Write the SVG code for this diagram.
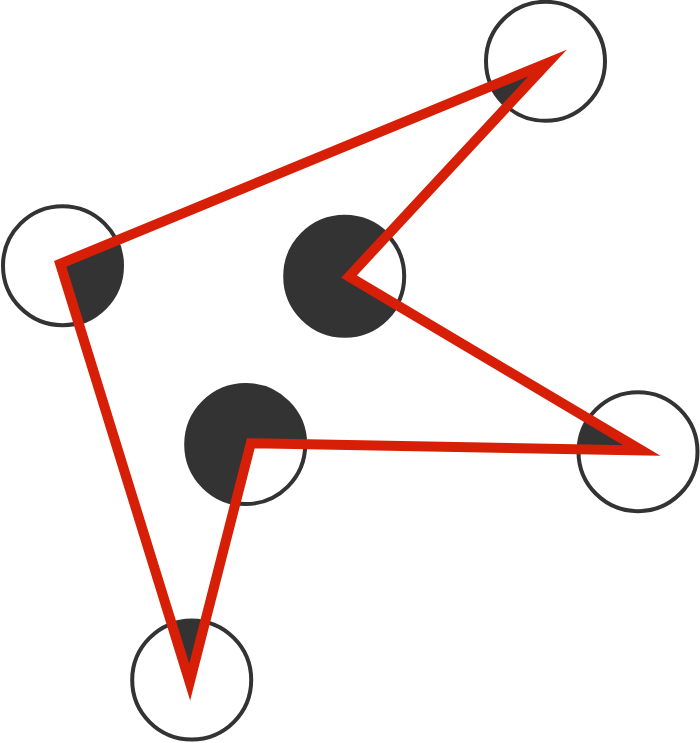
<svg xmlns="http://www.w3.org/2000/svg" width="700" height="743" viewBox="0 0 700 743">
  <style>
    .ring { fill: none; stroke: #333333; stroke-width: 4; }
    .wedge { fill: #333333; }
    .edge { fill: none; stroke: #d61f06; stroke-width: 10; stroke-linejoin: miter; stroke-miterlimit: 10; }
  </style>
  <defs>
    <clipPath id="circles">
      <circle cx="62.5" cy="265.7" r="59.5"/>
      <circle cx="545.5" cy="61.3" r="59.5"/>
      <circle cx="344.7" cy="276.3" r="59.5"/>
      <circle cx="638" cy="451.7" r="59.5"/>
      <circle cx="245.7" cy="444.5" r="59.5"/>
      <circle cx="191.7" cy="680" r="59.5"/>
    </clipPath>
  </defs>
  <rect width="700" height="743" fill="#ffffff"/>
  <g id="angles">
    <path class="wedge" clip-path="url(#circles)" d="M60.2,263.8 L547.5,63 L349,276.5 L641.7,450.5 L250.8,443.3 L189.7,682 Z"/>
  </g>
  <g id="node-a"><circle class="ring" cx="62.5" cy="265.7" r="59.5"/></g>
  <g id="node-b"><circle class="ring" cx="545.5" cy="61.3" r="59.5"/></g>
  <g id="node-c"><circle class="ring" cx="344.7" cy="276.3" r="59.5"/></g>
  <g id="node-d"><circle class="ring" cx="638" cy="451.7" r="59.5"/></g>
  <g id="node-e"><circle class="ring" cx="245.7" cy="444.5" r="59.5"/></g>
  <g id="node-f"><circle class="ring" cx="191.7" cy="680" r="59.5"/></g>
  <g id="connectors">
    <path class="edge" d="M60.2,263.8 L547.5,63 L349,276.5 L641.7,450.5 L250.8,443.3 L189.7,682 Z"/>
  </g>
</svg>
